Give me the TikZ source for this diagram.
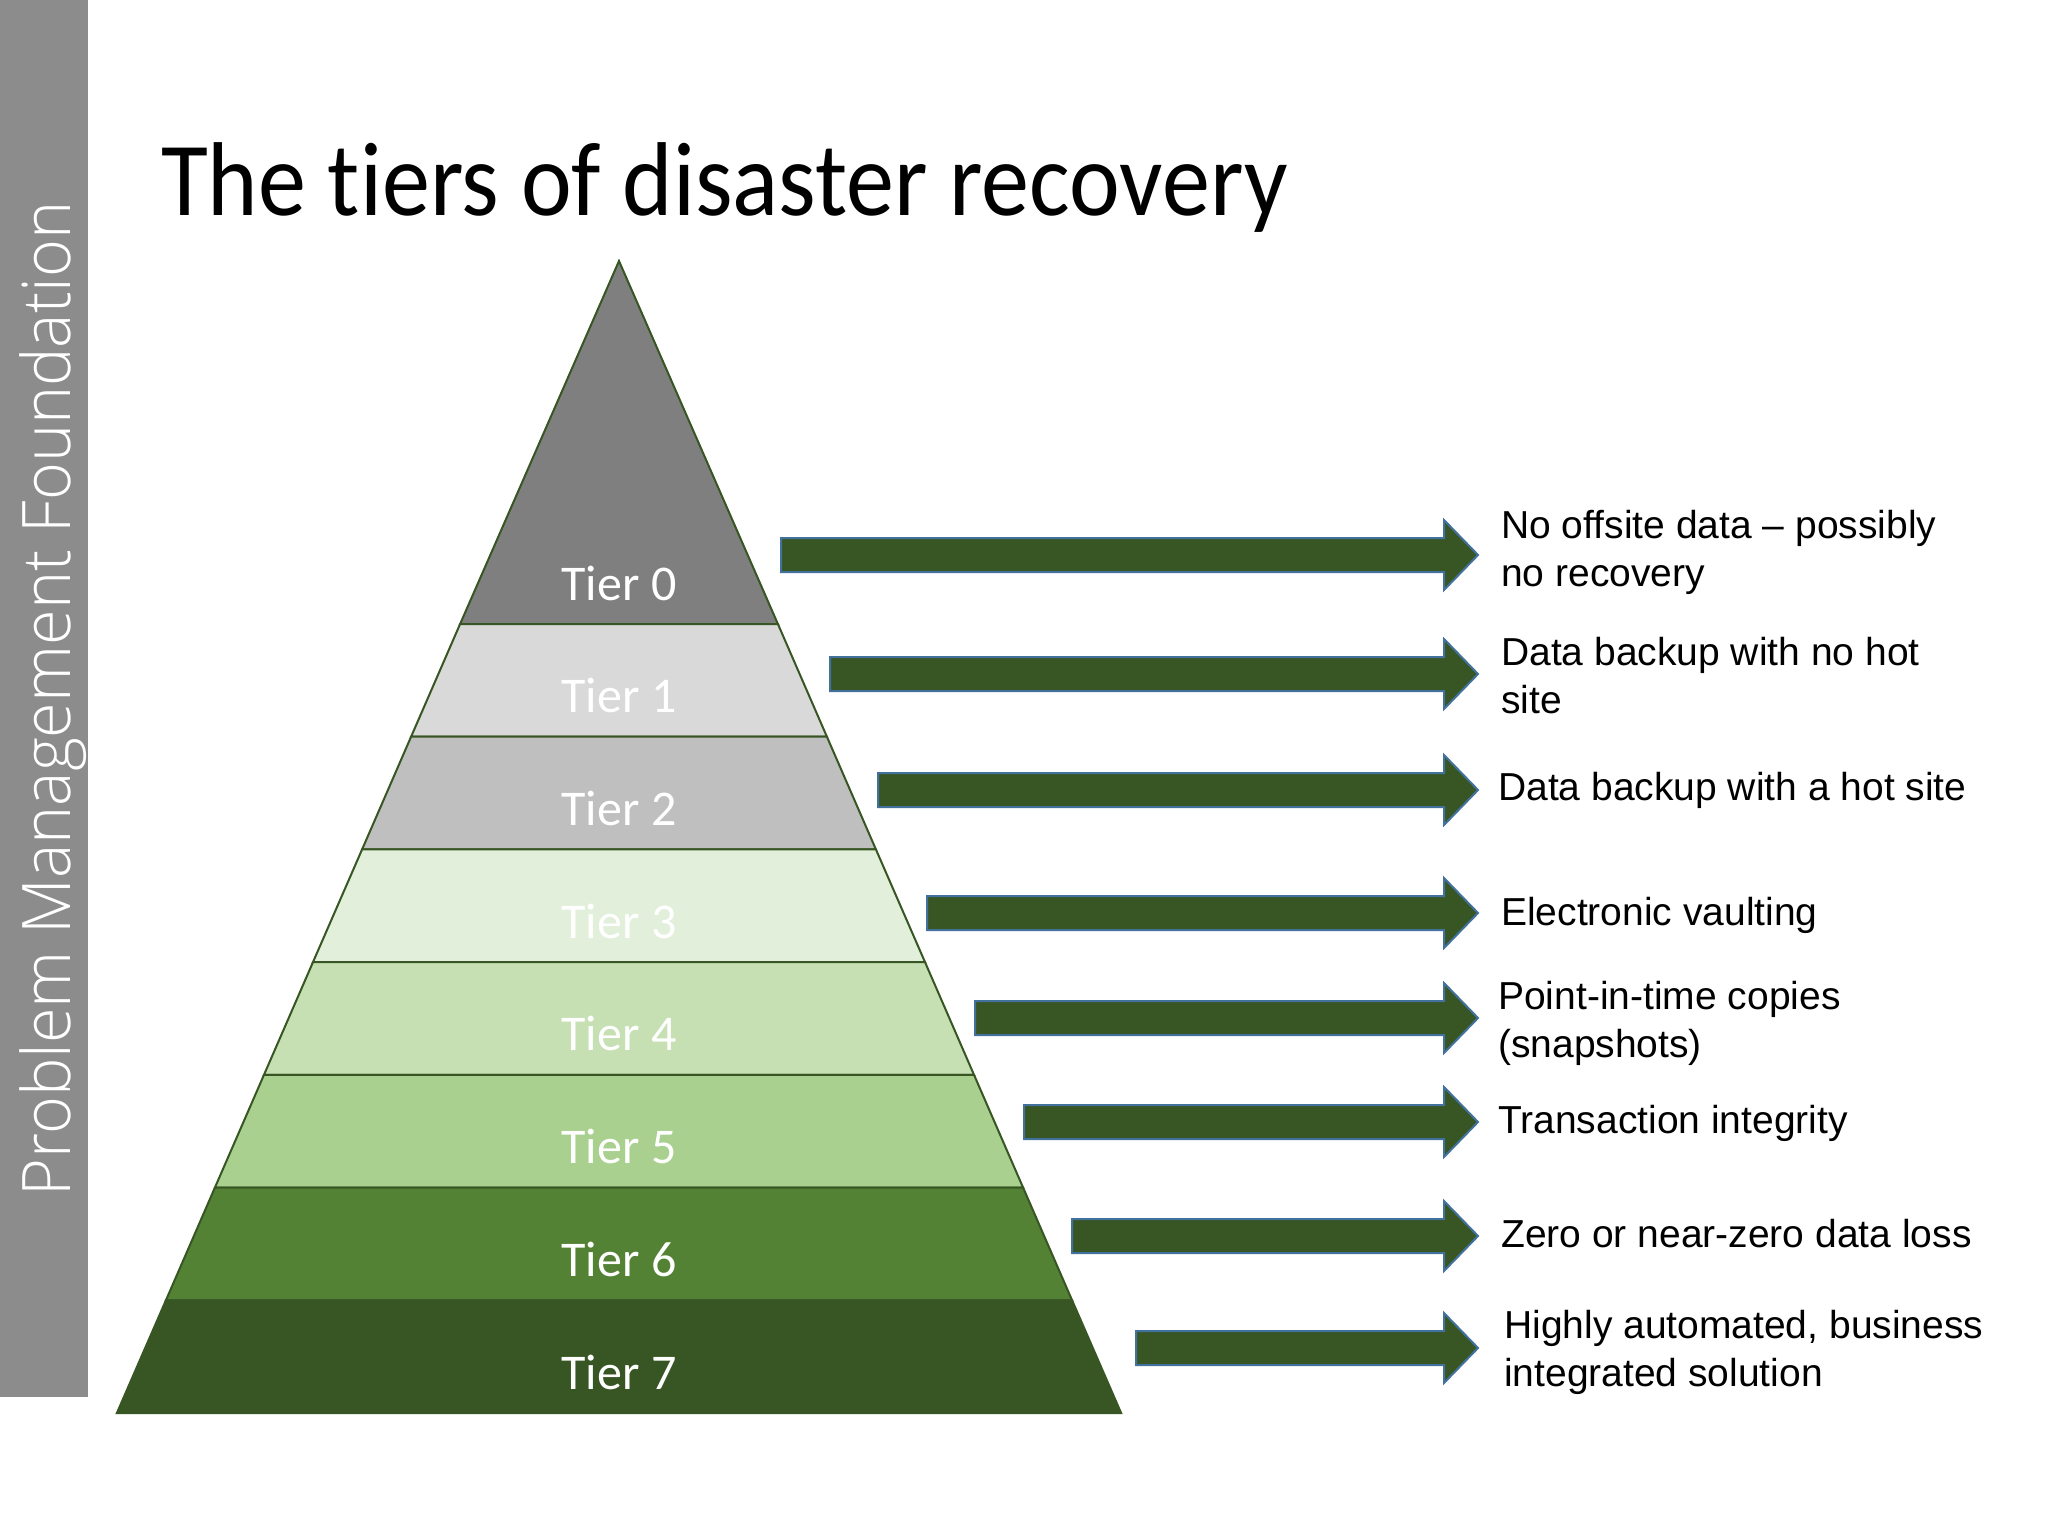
\documentclass[tikz,border=0pt]{standalone}
\usepackage{fontspec}
\usepackage{graphicx}
\setmainfont{Liberation Sans}
\newfontfamily\calib[Ligatures=NoCommon]{Carlito}
\newfontfamily\osans{Open Sans Light}
\definecolor{barg}{HTML}{8C8C8C}
\definecolor{tierA}{HTML}{7F7F7F}
\definecolor{tierB}{HTML}{D9D9D9}
\definecolor{tierC}{HTML}{BFBFBF}
\definecolor{tierD}{HTML}{E2EFDA}
\definecolor{tierE}{HTML}{C6E0B4}
\definecolor{tierF}{HTML}{A9D08E}
\definecolor{tierG}{HTML}{548235}
\definecolor{tierH}{HTML}{375623}
\definecolor{edgeg}{HTML}{375623}
\definecolor{arrline}{HTML}{41719C}
\tikzset{
  tierbox/.style={draw=edgeg, line width=2pt, line join=miter},
  tierlabel/.style={anchor=base, inner sep=0pt, text=white, font=\calib\fontsize{50}{60}\selectfont},
  blockarr/.style={fill=tierH, draw=arrline, line width=2pt},
  desc/.style={anchor=base west, inner sep=0pt, align=left, text=black, font=\fontsize{39}{48}\selectfont}
}
\newcommand\tierarrow[2]{\filldraw[blockarr] (#1,#2-17) -- (1444,#2-17) -- (1444,#2-35) -- (1478,#2) -- (1444,#2+35) -- (1444,#2+17) -- (#1,#2+17) -- cycle;}
\begin{document}
\begin{tikzpicture}[x=1pt,y=-1pt]
\useasboundingbox (0,0) rectangle (2048,1536);
\fill[white] (0,0) rectangle (2048,1536);
% side bar
\fill[barg] (0,0) rectangle (88,1397);
\node[rotate=90, anchor=base, inner sep=0pt, text=white] (side) at (70,699)
  {\osans\fontsize{67}{80}\selectfont\scalebox{0.965}[1]{Problem Management Foundation}};
% title
\node[anchor=base west, inner sep=0pt] (title) at (161,215)
  {\calib\fontsize{105}{120}\selectfont\scalebox{0.915}[1]{The tiers of disaster recovery}};
% pyramid
\filldraw[tierbox, fill=tierA] (619,261) -- (777.9,624) -- (460.1,624) -- cycle;
\filldraw[tierbox, fill=tierB] (460.1,624) -- (777.9,624) -- (826.9,736.7) -- (411.1,736.7) -- cycle;
\filldraw[tierbox, fill=tierC] (411.1,736.7) -- (826.9,736.7) -- (875.9,849.4) -- (362.1,849.4) -- cycle;
\filldraw[tierbox, fill=tierD] (362.1,849.4) -- (875.9,849.4) -- (925.0,962.1) -- (313.0,962.1) -- cycle;
\filldraw[tierbox, fill=tierE] (313.0,962.1) -- (925.0,962.1) -- (974.0,1074.8) -- (264.0,1074.8) -- cycle;
\filldraw[tierbox, fill=tierF] (264.0,1074.8) -- (974.0,1074.8) -- (1023.1,1187.6) -- (214.9,1187.6) -- cycle;
\filldraw[tierbox, fill=tierG] (214.9,1187.6) -- (1023.1,1187.6) -- (1072.1,1300.3) -- (165.9,1300.3) -- cycle;
\filldraw[tierbox, draw=tierH, fill=tierH] (165.9,1300.3) -- (1072.1,1300.3) -- (1121.1,1413) -- (116.9,1413) -- cycle;
% tier labels
\node[tierlabel] (t0) at (619,600) {Tier 0};
\node[tierlabel] (t1) at (619,712.7) {Tier 1};
\node[tierlabel] (t2) at (619,825.4) {Tier 2};
\node[tierlabel] (t3) at (619,938.1) {Tier 3};
\node[tierlabel] (t4) at (619,1050.8) {Tier 4};
\node[tierlabel] (t5) at (619,1163.6) {Tier 5};
\node[tierlabel] (t6) at (619,1276.3) {Tier 6};
\node[tierlabel] (t7) at (619,1389) {Tier 7};
% arrows
\tierarrow{781}{555}
\tierarrow{830}{674}
\tierarrow{878}{790}
\tierarrow{927}{913}
\tierarrow{975}{1018}
\tierarrow{1024}{1122}
\tierarrow{1072}{1236}
\tierarrow{1136}{1348}
% descriptions (base anchor = last line)
\node[desc] (d0) at (1501,586) {No offsite data -- possibly\\no recovery};
\node[desc] (d1) at (1501,713) {Data backup with no hot\\site};
\node[desc] (d2) at (1498,800) {Data backup with a hot site};
\node[desc] (d3) at (1501,925) {Electronic vaulting};
\node[desc] (d4) at (1498,1057) {Point-in-time copies\\(snapshots)};
\node[desc] (d5) at (1498,1133) {Transaction integrity};
\node[desc] (d6) at (1501,1247) {Zero or near-zero data loss};
\node[desc] (d7) at (1504,1386) {Highly automated, business\\integrated solution};
\end{tikzpicture}
\end{document}
